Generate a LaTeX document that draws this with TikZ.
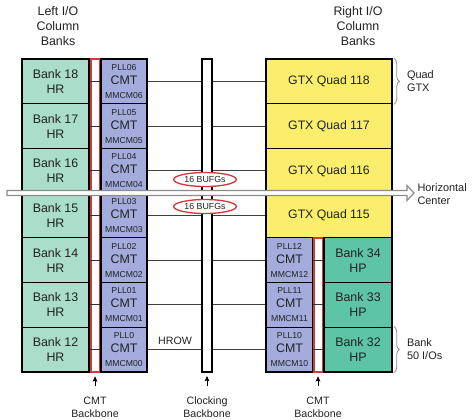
\documentclass[tikz,border=0pt]{standalone}
\usepackage{fontspec}
\setmainfont{Liberation Sans}
\usetikzlibrary{arrows.meta,shapes.geometric,decorations.pathreplacing}

\definecolor{hrgreen}{RGB}{170,222,203}
\definecolor{hpgreen}{RGB}{94,196,166}
\definecolor{cmtblue}{RGB}{163,172,221}
\definecolor{gtxyellow}{RGB}{250,238,108}
\definecolor{bbred}{RGB}{212,56,56}
\definecolor{txtgray}{RGB}{34,34,34}

\tikzset{every picture/.style={line width=0.75pt}}
\tikzset{
	hrbank/.style={draw,fill=hrgreen,line width=1pt,minimum width=50.25pt,minimum height=33.525pt,inner sep=0pt,align=center,text=txtgray,font=\fontsize{9.3}{11.25}\selectfont},
	hpbank/.style={hrbank,fill=hpgreen,minimum width=51pt},
	cmtbox/.style={draw,fill=cmtblue,line width=1pt,minimum width=34.5pt,minimum height=33.525pt,inner sep=0pt,align=center,text=txtgray,font=\fontsize{9.3}{10.5}\selectfont},
	gtxbox/.style={draw,fill=gtxyellow,line width=1pt,minimum width=94.5pt,minimum height=33.525pt,inner sep=0pt,text=txtgray,font=\fontsize{9.2}{11}\selectfont},
	cmtbb/.style={draw=bbred,fill=white,line width=1.5pt,minimum width=6.75pt,inner sep=0pt},
	clkbb/.style={draw,fill=white,line width=1pt,minimum width=7.5pt,minimum height=234.75pt,inner sep=0pt},
	hrow/.style={draw=black!75,line width=0.55pt},
	bbtick/.style={draw=black!80,line width=0.55pt},
	bufg/.style={ellipse,draw=bbred,fill=white,line width=1pt,minimum width=47pt,minimum height=10.5pt,inner sep=0pt,text=txtgray,font=\fontsize{6.6}{8}\selectfont},
	ttl/.style={align=center,inner sep=0pt,text=txtgray,font=\fontsize{9.3}{11.25}\selectfont},
	botlbl/.style={align=center,inner sep=0pt,text=txtgray,font=\fontsize{8}{10}\selectfont},
	sidelbl/.style={align=left,anchor=west,inner sep=0pt,text=txtgray,font=\fontsize{8.2}{9.75}\selectfont},
	bbarrow/.style={-{Stealth[length=4pt,width=3.5pt,inset=0.8pt]},line width=0.6pt,shorten >=2.5pt},
	sidebrace/.style={draw=black!45,line width=0.6pt,decorate,decoration={brace,amplitude=4pt,raise=1pt}}
}

\newcommand{\pllfont}[1]{{\fontsize{6.5}{10.5}\selectfont #1}}

\begin{document}
\begin{tikzpicture}[x=0.75pt,y=0.75pt,yscale=-1,xscale=1]
	\useasboundingbox (0,0) rectangle (474,419);

	% Text Node
	\node[ttl] (leftttl) at (58,26.5) {Left I/O\\Column\\Banks};
	% Text Node
	\node[ttl] (rightttl) at (358,26.5) {Right I/O\\Column\\Banks};

	%Shape: Rectangle (left banks)
	\node[hrbank] (b18) at (55.5,81.35) {Bank 18\\HR};
	\node[hrbank] (b17) at (55.5,126.05) {Bank 17\\HR};
	\node[hrbank] (b16) at (55.5,170.75) {Bank 16\\HR};
	\node[hrbank] (b15) at (55.5,215.45) {Bank 15\\HR};
	\node[hrbank] (b14) at (55.5,260.15) {Bank 14\\HR};
	\node[hrbank] (b13) at (55.5,304.85) {Bank 13\\HR};
	\node[hrbank] (b12) at (55.5,349.55) {Bank 12\\HR};

	%Shape: Rectangle (left CMT backbone)
	\node[cmtbb,minimum height=234.75pt] (lbb) at (95,215.45) {};
	\draw[bbtick] (lbb.west |- b18) -- (lbb.east |- b18);
	\draw[bbtick] (lbb.west |- b17) -- (lbb.east |- b17);
	\draw[bbtick] (lbb.west |- b16) -- (lbb.east |- b16);
	\draw[bbtick] (lbb.west |- b15) -- (lbb.east |- b15);
	\draw[bbtick] (lbb.west |- b14) -- (lbb.east |- b14);
	\draw[bbtick] (lbb.west |- b13) -- (lbb.east |- b13);
	\draw[bbtick] (lbb.west |- b12) -- (lbb.east |- b12);

	%Shape: Rectangle (left CMTs)
	\node[cmtbox] (c06) at (124,81.35) {\pllfont{PLL06}\\CMT\\\pllfont{MMCM06}};
	\node[cmtbox] (c05) at (124,126.05) {\pllfont{PLL05}\\CMT\\\pllfont{MMCM05}};
	\node[cmtbox] (c04) at (124,170.75) {\pllfont{PLL04}\\CMT\\\pllfont{MMCM04}};
	\node[cmtbox] (c03) at (124,215.45) {\pllfont{PLL03}\\CMT\\\pllfont{MMCM03}};
	\node[cmtbox] (c02) at (124,260.15) {\pllfont{PLL02}\\CMT\\\pllfont{MMCM02}};
	\node[cmtbox] (c01) at (124,304.85) {\pllfont{PLL01}\\CMT\\\pllfont{MMCM01}};
	\node[cmtbox] (c00) at (124,349.55) {\pllfont{PLL0}\\CMT\\\pllfont{MMCM00}};

	%Shape: Rectangle (GTX quads)
	\node[gtxbox] (gq118) at (329,81.35) {GTX Quad 118};
	\node[gtxbox] (gq117) at (329,126.05) {GTX Quad 117};
	\node[gtxbox] (gq116) at (329,170.75) {GTX Quad 116};
	\node[gtxbox] (gq115) at (329,215.45) {GTX Quad 115};

	%Shape: Rectangle (right CMTs)
	\node[cmtbox,minimum width=35.25pt] (c12) at (289.5,260.15) {\pllfont{PLL12}\\CMT\\\pllfont{MMCM12}};
	\node[cmtbox,minimum width=35.25pt] (c11) at (289.5,304.85) {\pllfont{PLL11}\\CMT\\\pllfont{MMCM11}};
	\node[cmtbox,minimum width=35.25pt] (c10) at (289.5,349.55) {\pllfont{PLL10}\\CMT\\\pllfont{MMCM10}};

	%Shape: Rectangle (right CMT backbone)
	\node[cmtbb,minimum height=100.575pt] (rbb) at (318,304.85) {};
	\draw[bbtick] (rbb.west |- c12) -- (rbb.east |- c12);
	\draw[bbtick] (rbb.west |- c11) -- (rbb.east |- c11);
	\draw[bbtick] (rbb.west |- c10) -- (rbb.east |- c10);

	%Shape: Rectangle (right banks)
	\node[hpbank] (b34) at (358,260.15) {Bank 34\\HP};
	\node[hpbank] (b33) at (358,304.85) {Bank 33\\HP};
	\node[hpbank] (b32) at (358,349.55) {Bank 32\\HP};

	%Straight Lines (HROWs)
	\draw[hrow] (c06) -- (gq118);
	\draw[hrow] (c05) -- (gq117);
	\draw[hrow] (c04) -- (gq116);
	\draw[hrow] (c03) -- (gq115);
	\draw[hrow] (c02) -- (c12);
	\draw[hrow] (c01) -- (c11);
	\draw[hrow] (c00) -- (c10);

	%Shape: Rectangle (clocking backbone)
	\node[clkbb] (clk) at (207,215.45) {};

	%Shape: Ellipse
	\node[bufg] (bufgtop) at (205,179.5) {16 BUFGs};
	%Shape: Ellipse
	\node[bufg] (bufgbot) at (205,206.5) {16 BUFGs};

	% Text Node
	\node[botlbl,font=\fontsize{8}{10}\selectfont] (hrowlbl) at (175,341) {HROW};

	%Shape: Right Arrow (horizontal center)
	\draw[draw=black!45,fill=white,line width=0.9pt] (7,190.5) -- (407,190.5) -- (407,185.5) -- (414,193) -- (407,200.5) -- (407,195.5) -- (7,195.5) -- cycle ;
	% Text Node
	\node[sidelbl] (hclbl) at (417,194) {Horizontal\\Center};

	%Curve Lines (braces)
	\draw[sidebrace] (gq118.north east) -- (gq118.south east);
	% Text Node
	\node[sidelbl] (quadlbl) at (406.5,81.5) {Quad\\GTX};
	\draw[sidebrace] (b32.north east) -- (b32.south east);
	% Text Node
	\node[sidelbl] (banklbl) at (406.5,349.5) {Bank\\50 I/Os};

	%Straight Lines (arrows)
	\coordinate (lbbtail) at (95,386);
	\draw[bbarrow] (lbbtail) -- (lbb.south);
	\coordinate (clktail) at (207,386);
	\draw[bbarrow] (clktail) -- (clk.south);
	\coordinate (rbbtail) at (318,386);
	\draw[bbarrow] (rbbtail) -- (rbb.south);

	% Text Node
	\node[botlbl] (lbblbl) at (95,407) {CMT\\Backbone};
	% Text Node
	\node[botlbl] (clklbl) at (207,407) {Clocking\\Backbone};
	% Text Node
	\node[botlbl] (rbblbl) at (318,407) {CMT\\Backbone};

\end{tikzpicture}
\end{document}
